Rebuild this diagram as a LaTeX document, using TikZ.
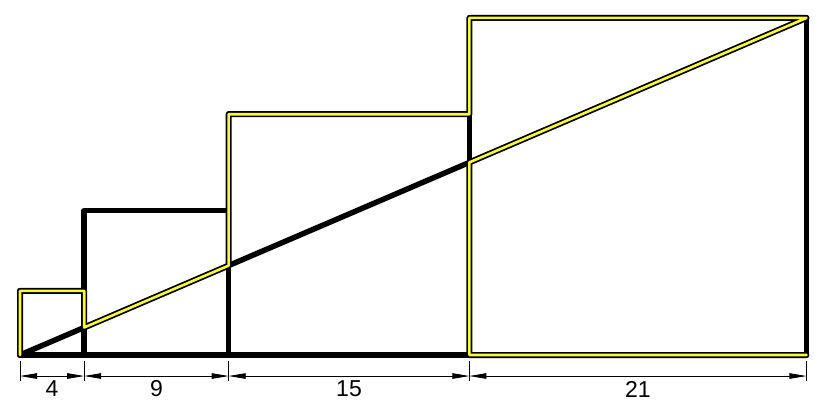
\documentclass[tikz,border=0pt]{standalone}
\usepackage{fontspec}
\setmainfont{Liberation Sans}
\usetikzlibrary{arrows.meta}
\definecolor{yel}{RGB}{250,250,60}
\begin{document}
\begin{tikzpicture}[x=1pt,y=1pt,
  blk/.style={line width=5.5pt, line join=round, line cap=round},
  yedge/.style={line width=6pt, line join=round, line cap=round},
  yfill/.style={yel, line width=2.6pt, line join=round, line cap=round},
  tick/.style={line width=0.8pt},
  dim/.style={line width=0.8pt, {Triangle[length=17pt,width=5.5pt]}-{Triangle[length=17pt,width=5.5pt]}},
  lbl/.style={font=\fontsize{23}{26}\selectfont, inner sep=0pt, anchor=center}
]
\useasboundingbox (0,0) rectangle (823,408);
\begin{scope}[shift={(20pt,53pt)}, x=16.05pt, y=16.05pt]
  % corners
  \coordinate (O) at (0,0);
  \coordinate (A4) at (4,4);
  \coordinate (A9) at (13,9);
  \coordinate (A15) at (28,15);
  \coordinate (A21) at (49,21);
  \coordinate (P0) at (0,4);
  \coordinate (P1) at (4,{12/7});
  \coordinate (P2) at (13,{39/7});
  \coordinate (P3) at (13,15);
  \coordinate (P4) at (28,21);
  \coordinate (P5) at (28,12);
  \coordinate (P6) at (28,0);
  \coordinate (P7) at (49,0);
  % black squares and diagonal
  \draw[blk] (O) rectangle (A4);
  \draw[blk] (4,0) rectangle (A9);
  \draw[blk] (13,0) rectangle (A15);
  \draw[blk] (P6) rectangle (A21);
  \draw[blk] (O) -- (A21);
  % yellow outline
  \def\ypath{(O) -- (P0) -- (A4) -- (P1) -- (P2) -- (P3) -- (28,15) -- (P4) -- (A21) -- (P5) -- (P6) -- (P7)}
  \draw[yedge] \ypath;
  \draw[yfill] \ypath;
  % dimension ticks
  \foreach \n/\xx in {0/0,1/4,2/13,3/28,4/49}{
    \coordinate (t\n) at (\xx,-0.37);
    \coordinate (b\n) at (\xx,-1.62);
    \coordinate (d\n) at (\xx,-1.31);
    \draw[tick] (t\n) -- (b\n);
  }
  \foreach \a/\b/\t in {0/1/4,1/2/9,2/3/15,3/4/21}{
    \draw[dim] (d\a) -- (d\b);
    \path (d\a) -- coordinate (m\t) (d\b);
    \node[lbl, yshift=-13pt] (l\t) at (m\t) {\t};
  }
\end{scope}
\end{tikzpicture}
\end{document}
